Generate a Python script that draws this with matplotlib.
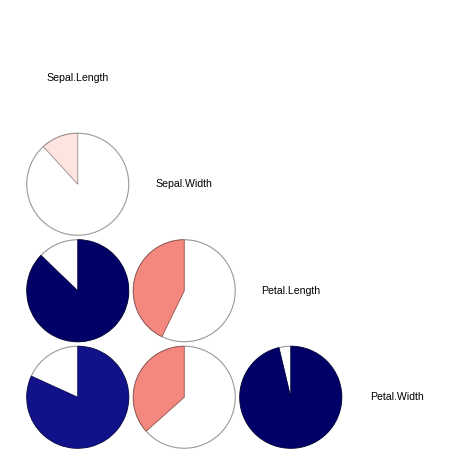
import matplotlib.pyplot as plt
from matplotlib.colors import to_rgb
from matplotlib.patches import Circle, Wedge

variables = ["Sepal.Length", "Sepal.Width", "Petal.Length", "Petal.Width"]
# lower-triangle correlations: (row, col, r)
pairs = [(1, 0), (2, 0), (2, 1), (3, 0), (3, 1), (3, 2)]
corr_values = [-0.118, 0.872, -0.428, 0.818, -0.366, 0.963]

# fill colours as they appear in the picture
pie_colors = ["#FDE4E1", "#000066", "#F4887E", "#11118A", "#F4887E", "#000068"]

size = 474
origin = 24.5
cell = 106.5
radius = 51

fig = plt.figure(figsize=(4.74, 4.74), dpi=100)
ax = fig.add_axes([0, 0, 1, 1])
ax.set_xlim(0, size)
ax.set_ylim(0, size)
ax.set_aspect("equal")
ax.axis("off")


def centre(row, col):
    return origin + (col + 0.5) * cell, size - (origin + (row + 0.5) * cell)


for k, name in enumerate(variables):
    x, y = centre(k, k)
    ax.text(x, y, name, ha="center", va="center", fontsize=7.6,
            family="Liberation Sans")

for (row, col), r, c in zip(pairs, corr_values, pie_colors):
    x, y = centre(row, col)
    ax.add_patch(Circle((x, y), radius, facecolor="white", edgecolor="#9a9a9a", lw=0.8))
    span = 360 * abs(r)
    if r >= 0:
        t1, t2 = 90 - span, 90
    else:
        t1, t2 = 90, 90 + span
    edge = tuple(0.6 * v for v in to_rgb(c))
    ax.add_patch(Wedge((x, y), radius, t1, t2, facecolor=c, edgecolor=edge, lw=0.6))

fig.savefig("out.png", dpi=100)
